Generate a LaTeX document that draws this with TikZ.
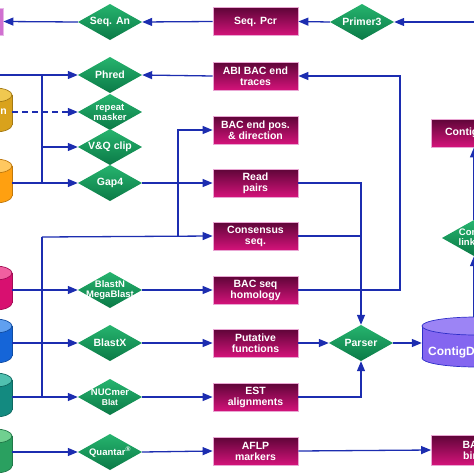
\documentclass[tikz,border=0pt]{standalone}
\usepackage{fontspec}
\setmainfont{Liberation Sans}
\usetikzlibrary{arrows.meta}
\definecolor{lineblue}{HTML}{1C2DB0}
\definecolor{boxtop}{HTML}{5E0538}
\definecolor{boxbot}{HTML}{D4137A}
\definecolor{boxborder}{HTML}{E9A6D3}
\definecolor{diatop}{HTML}{26B46E}
\definecolor{diabot}{HTML}{0B7A47}
\definecolor{goldc}{HTML}{D9A21C}\definecolor{goldt}{HTML}{F0C850}
\definecolor{orangec}{HTML}{FFA010}\definecolor{oranget}{HTML}{FFC860}
\definecolor{magc}{HTML}{D81070}\definecolor{magt}{HTML}{F060A0}
\definecolor{bluec}{HTML}{1565D8}\definecolor{bluet}{HTML}{60A0F0}
\definecolor{tealc}{HTML}{138A80}\definecolor{tealt}{HTML}{50C0B0}
\definecolor{greenc}{HTML}{2AA060}\definecolor{greent}{HTML}{70D090}
\definecolor{contigc}{HTML}{8466F0}\definecolor{contigt}{HTML}{9C84F5}
\definecolor{contigb}{HTML}{2F2FC8}
\definecolor{orchid}{HTML}{D070D0}
\newcommand\mycyl[9]{%
  \fill[#7] (#2,#3+#5/2-#6) ellipse[x radius=#4/2, y radius=#6];
  \draw[#9, line width=0.7pt] (#2,#3+#5/2-#6) ellipse[x radius=#4/2, y radius=#6];
  \fill[#7] (#2-#4/2,#3-#5/2+#6) rectangle (#2+#4/2,#3+#5/2-#6);
  \draw[#9, line width=0.7pt] (#2-#4/2,#3-#5/2+#6) -- (#2-#4/2,#3+#5/2-#6) (#2+#4/2,#3-#5/2+#6) -- (#2+#4/2,#3+#5/2-#6);
  \filldraw[fill=#8, draw=#9, line width=0.7pt] (#2,#3-#5/2+#6) ellipse[x radius=#4/2, y radius=#6];
  \node[inner sep=0pt, minimum width=#4pt, minimum height=#5pt] (#1) at (#2,#3) {};
}
\tikzset{
  conn/.style={draw=lineblue, line width=1.3pt},
  arr/.style={conn, -{Triangle[length=10pt,width=8pt]}},
  pbox/.style={rectangle, minimum width=85pt, minimum height=28pt, inner sep=1pt,
    top color=boxtop, bottom color=boxbot, draw=boxborder, line width=0.8pt,
    text=white, align=center, font=\bfseries\fontsize{10.5}{11}\selectfont},
  dia/.style={rectangle, minimum width=64pt, minimum height=36pt, inner sep=0pt,
    text=white, align=center, font=\bfseries\fontsize{10.5}{11}\selectfont,
    path picture={\shade[top color=diatop, bottom color=diabot]
      (path picture bounding box.north) -- (path picture bounding box.east) --
      (path picture bounding box.south) -- (path picture bounding box.west) -- cycle;}},
  small/.style={font=\bfseries\fontsize{9.5}{10}\selectfont},
}
\begin{document}
\begin{tikzpicture}[x=1pt,y=-1pt]
\useasboundingbox (0,0) rectangle (474,474);
% left box
\node[rectangle, minimum width=43pt, minimum height=27pt, fill=orchid, draw=orchid!50!white, line width=0.8pt] (lbox) at (-18.5,21.5) {};
% left cylinders
\mycyl{gold}{-5}{110}{34}{44}{7}{goldc}{goldt}{goldc!75!black}
\node[text=white, font=\bfseries\fontsize{10.5}{11}\selectfont, anchor=east, inner sep=0pt] (goldtxt) at (7,112) {n};
\mycyl{orange}{-5}{181}{34}{44}{7}{orangec}{oranget}{orangec!75!black}
\mycyl{mag}{-5}{288}{34}{44}{7}{magc}{magt}{magc!75!black}
\mycyl{blue}{-5}{341}{34}{44}{7}{bluec}{bluet}{bluec!75!black}
\mycyl{teal}{-5}{395}{34}{44}{7}{tealc}{tealt}{tealc!75!black}
\mycyl{green}{-5}{451}{34}{44}{7}{greenc}{greent}{greenc!75!black}
% contig cylinder
\mycyl{contigdb}{476}{342}{108}{50}{9}{contigc}{contigt}{contigb}
\node[text=white, font=\bfseries\fontsize{12}{13}\selectfont, anchor=west, inner sep=0pt] (contigtxt) at (428,352) {ContigDB};
% diamonds
\node[dia] (seqan) at (110,22) {Seq. An};
\node[dia] (phred) at (110,75) {Phred};
\node[dia, small] (rm) at (110,112) {repeat\\masker};
\node[dia] (vq) at (110,147) {V\&Q clip};
\node[dia] (gap4) at (110,183) {Gap4};
\node[dia, small] (blastn) at (110,290) {BlastN\\MegaBlast};
\node[dia] (blastx) at (110,343) {BlastX};
\node[dia, small] (nucmer) at (110,397) {NUCmer\\{\fontsize{8.5}{9}\selectfont Blat}};
\node[dia, small] (quantar) at (110,452) {Quantar\textsuperscript{\textregistered}};
\node[dia] (primer3) at (362,22) {Primer3};
\node[dia] (parser) at (361,343) {Parser};
\node[dia, small] (conlink) at (474,238) {Contig\\linking};
% boxes
\node[pbox] (seqpcr) at (255.5,21.5) {Seq. Pcr};
\node[pbox] (abi) at (255.5,76) {ABI BAC end\\traces};
\node[pbox] (bacendpos) at (255.5,130) {BAC end pos.\\\& direction};
\node[pbox] (readpairs) at (255.5,183) {Read\\pairs};
\node[pbox] (consensus) at (255.5,236) {Consensus\\seq.};
\node[pbox] (bacseq) at (255.5,290) {BAC seq\\homology};
\node[pbox] (putative) at (255.5,343) {Putative\\functions};
\node[pbox] (est) at (255.5,397) {EST\\alignments};
\node[pbox] (aflp) at (255.5,451) {AFLP\\markers};
\node[pbox] (contigmap) at (474,133) {Contig map};
\node[pbox, minimum height=30pt] (bacbins) at (474,450) {BAC\\bins};
% coordinates
\coordinate (pin) at (480,22);
\coordinate (lin) at (-2,75);
\coordinate (j1) at (42,75);
\coordinate (j2) at (42,183);
\coordinate (j3) at (42,147);
\coordinate (j5) at (42,237);
\coordinate (j6) at (42,397);
\coordinate (j7) at (178,237);
\coordinate (j10) at (400,290);
% connectors
\draw[arr] (pin) -- (primer3.east);
\draw[arr] (primer3.west) -- (seqpcr.east);
\draw[arr] (seqpcr.west) -- (seqan.east);
\draw[arr] (seqan.west) -- (lbox.east);
\draw[arr] (lin) -- (phred.west);
\draw[arr] (abi.west) -- (phred.east);
\draw[conn] (j1) -- (j2);
\draw[arr] (j3) -- (vq.west);
\draw[arr, dash pattern=on 6pt off 4pt] (gold.east |- goldtxt.east) -- (rm.west);
\draw[arr] (orange.east |- gap4.west) -- (gap4.west);
\draw[arr] (gap4.east) -- (readpairs.west);
\draw[arr] (j5) -- (consensus.west);
\draw[conn] (j5) -- (j6);
\draw[arr] (j7) |- (bacendpos.west);
\draw[arr] (readpairs.east) -| (parser.north);
\draw[conn] (consensus.east) -- (consensus.east -| parser.north);
\draw[arr] (bacseq.east) -- (j10) |- (abi.east);
\draw[arr] (mag.east |- blastn.west) -- (blastn.west);
\draw[arr] (blastn.east) -- (bacseq.west);
\draw[arr] (blue.east |- blastx.west) -- (blastx.west);
\draw[arr] (blastx.east) -- (putative.west);
\draw[arr] (teal.east |- nucmer.west) -- (nucmer.west);
\draw[arr] (nucmer.east) -- (est.west);
\draw[arr] (green.east |- quantar.west) -- (quantar.west);
\draw[arr] (quantar.east) -- (aflp.west);
\draw[arr] (putative.east) -- (parser.west);
\draw[arr] (est.east) -| (parser.south);
\draw[arr] (parser.east) -- (contigdb.west |- parser.east);
\draw[arr] (aflp.east) -- (bacbins.west);
\draw[arr] (contigdb.north -| conlink.south) -- (conlink.south);
\draw[arr] (conlink.north) -- (contigmap.south);
\end{tikzpicture}
\end{document}
